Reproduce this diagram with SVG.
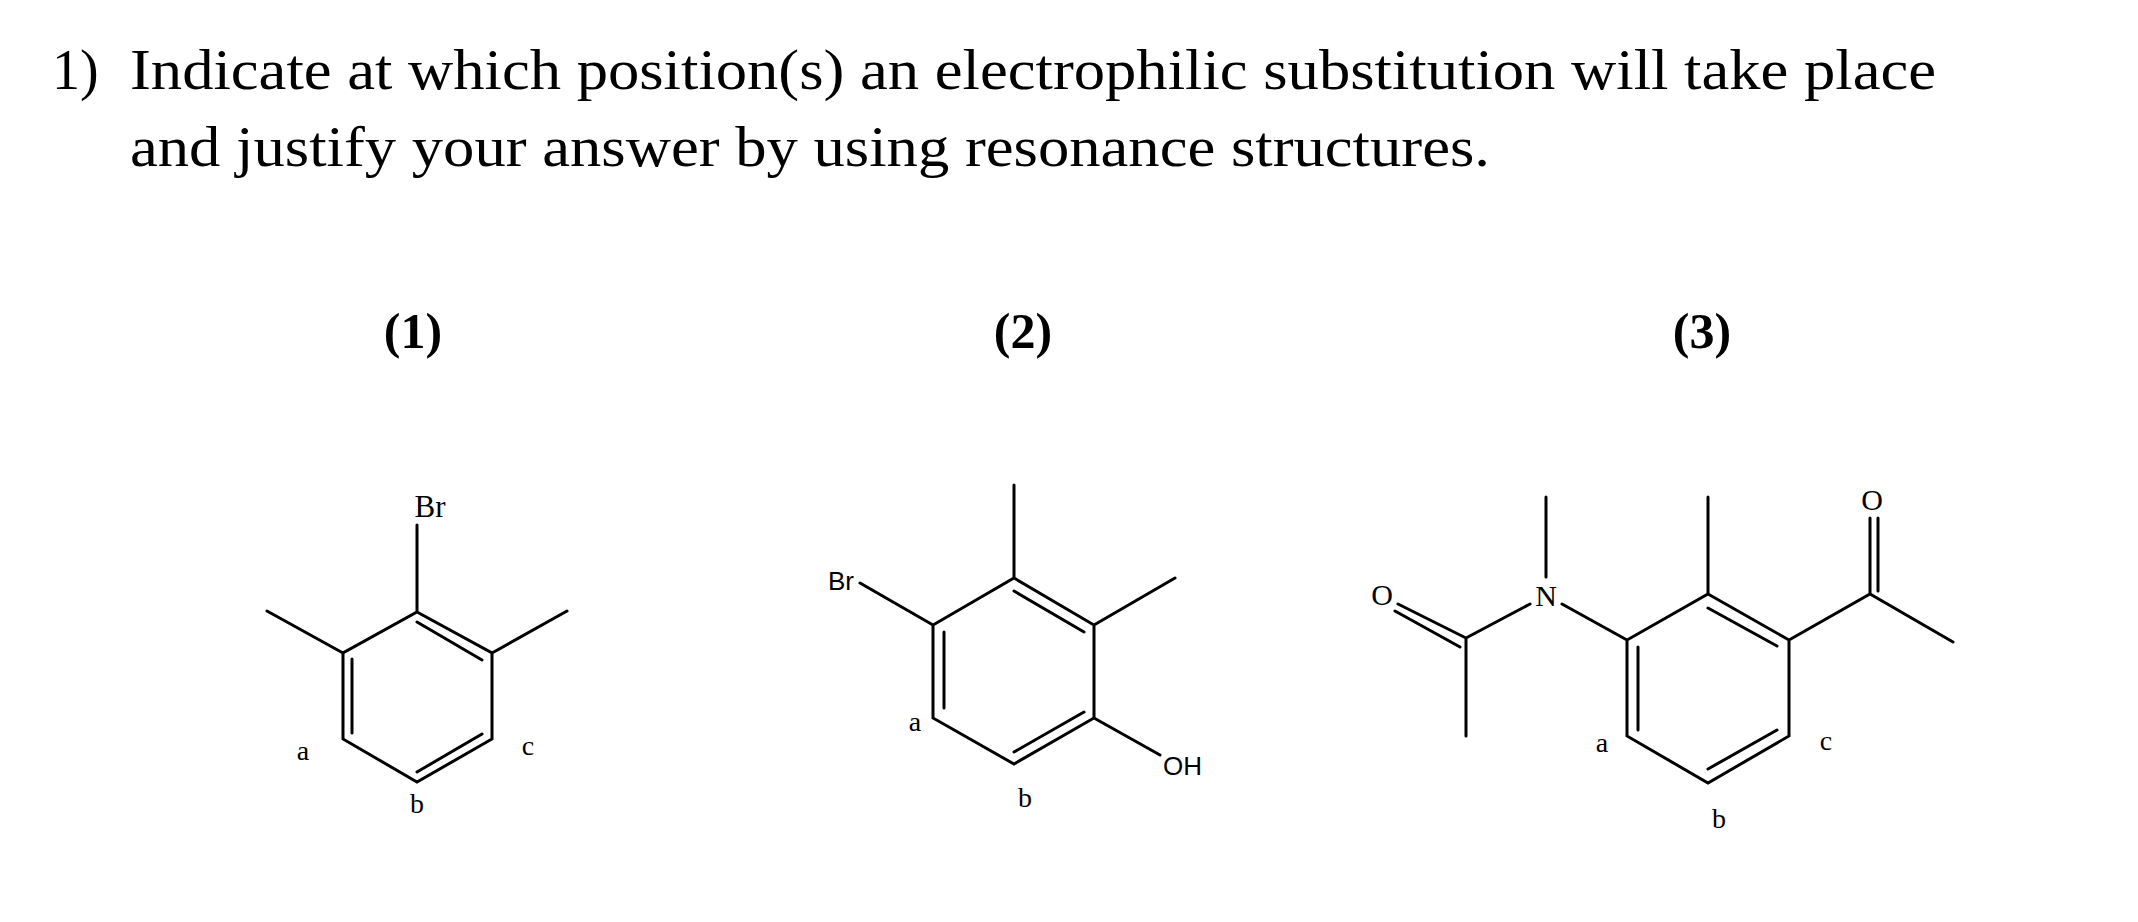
<svg xmlns="http://www.w3.org/2000/svg" width="2138" height="922" viewBox="0 0 2138 922">
<style>
.b{stroke:#000;stroke-width:3;fill:none;stroke-linecap:round}
.t{font-family:"Liberation Serif",serif;fill:#000}
.s{font-family:"Liberation Sans",sans-serif;fill:#000}
</style>
<rect width="2138" height="922" fill="#fff"/>
<g id="title">
<text class="t" x="52" y="89" font-size="56">1)</text>
<text class="t" x="130" y="89" font-size="56" textLength="1806" lengthAdjust="spacingAndGlyphs">Indicate at which position(s) an electrophilic substitution will take place</text>
<text class="t" x="130" y="166" font-size="56" textLength="1360" lengthAdjust="spacingAndGlyphs">and justify your answer by using resonance structures.</text>
</g>
<g id="labels" class="t" font-size="50" font-weight="bold" text-anchor="middle">
<text x="413" y="348">(1)</text>
<text x="1023" y="348">(2)</text>
<text x="1702" y="348">(3)</text>
</g>
<g id="mol1">
<path class="b" d="M417,612 L492,653 L492,739 L417,782 L343,739 L343,653 Z M417,612 V525 M343,653 L267,611 M492,653 L567,611 M352,659 V733 M417,622 L482,660 M417,772 L482,734"/>
<text class="t" x="430" y="517" font-size="31" text-anchor="middle">Br</text>
<text class="t" x="303" y="760" font-size="28" text-anchor="middle">a</text>
<text class="t" x="417" y="813" font-size="28" text-anchor="middle">b</text>
<text class="t" x="528" y="755" font-size="28" text-anchor="middle">c</text>
</g>
<g id="mol2">
<path class="b" d="M1014,578 L1094,625 L1094,718 L1014,764 L933,718 L933,625 Z M1014,578 V485 M1094,625 L1175,578 M933,625 L860,583 M1094,718 L1160,755 M944,632 V708 M1014,591 L1084,632 M1014,752 L1084,712"/>
<text class="s" x="828" y="590" font-size="26">Br</text>
<text class="s" x="1163" y="775" font-size="26">OH</text>
<text class="t" x="915" y="731" font-size="28" text-anchor="middle">a</text>
<text class="t" x="1025" y="807" font-size="28" text-anchor="middle">b</text>
</g>
<g id="mol3">
<path class="b" d="M1708,594 L1789,640 L1789,736 L1708,783 L1627,736 L1627,640 Z M1708,594 V497 M1638,647 V730 M1708,608 L1777,646 M1708,769 L1777,730 M1562,604 L1627,640 M1546,577 V497 M1530,604 L1466,638 M1466,638 V736 M1398,604 L1466,638 M1395,611 L1460,647 M1789,640 L1870,594 L1953,642 M1870,594 V518 M1878,591 V518"/>
<text class="t" x="1546" y="606" font-size="30" text-anchor="middle">N</text>
<text class="t" x="1382" y="605" font-size="30" text-anchor="middle">O</text>
<text class="t" x="1872" y="510" font-size="30" text-anchor="middle">O</text>
<text class="t" x="1602" y="752" font-size="28" text-anchor="middle">a</text>
<text class="t" x="1719" y="828" font-size="28" text-anchor="middle">b</text>
<text class="t" x="1826" y="750" font-size="28" text-anchor="middle">c</text>
</g>
</svg>
